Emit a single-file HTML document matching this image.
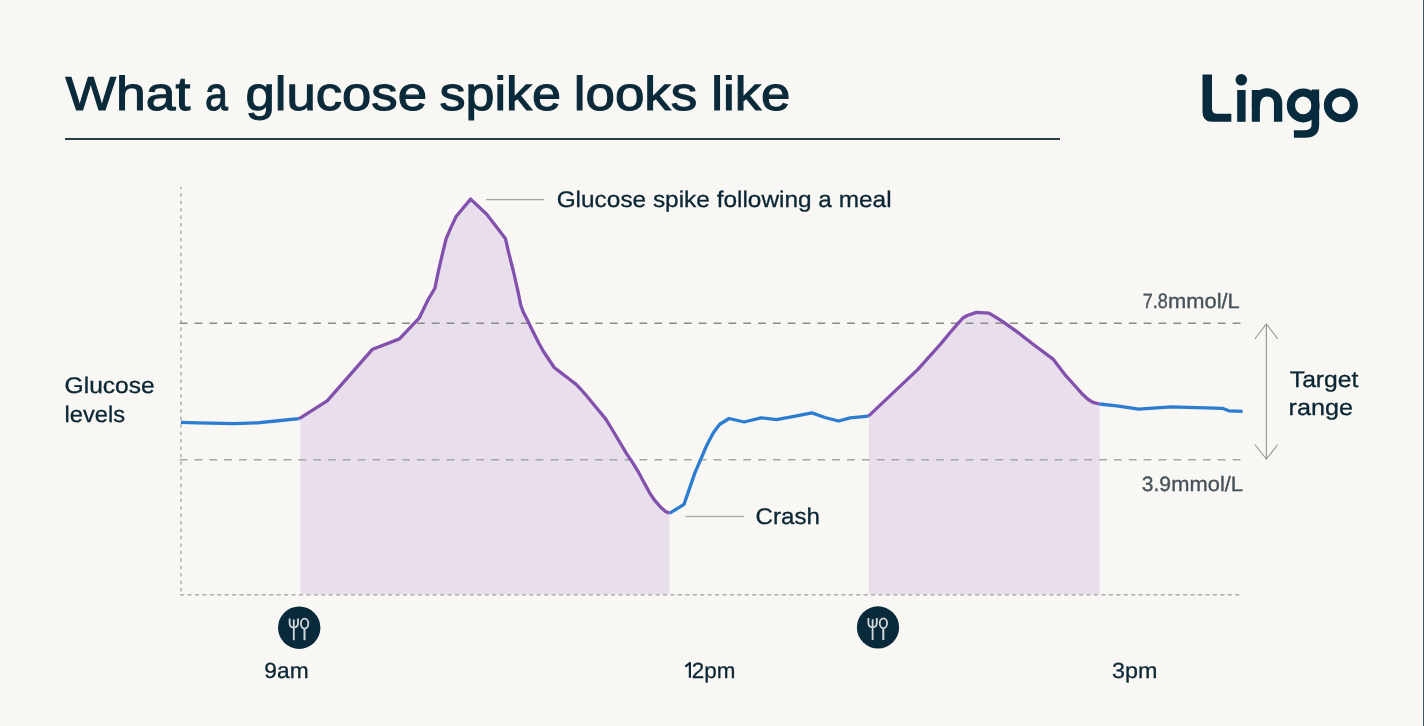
<!DOCTYPE html>
<html>
<head>
<meta charset="utf-8">
<style>
html,body{margin:0;padding:0;}
body{width:1424px;height:726px;background:#F8F7F3;overflow:hidden;position:relative;font-family:"Liberation Sans",sans-serif;}
svg{position:absolute;left:0;top:0;will-change:transform;text-rendering:geometricPrecision;}
.edge{position:absolute;right:0;top:0;width:1px;height:726px;background:#3B5A62;}
</style>
</head>
<body>
<svg width="1424" height="726" viewBox="0 0 1424 726">
  <!-- title -->
  <g font-family="Liberation Sans" font-size="47.5" fill="#0A2A3A" stroke="#0A2A3A" stroke-width="1.1">
    <text x="65.4" y="110.2" textLength="124.86" lengthAdjust="spacingAndGlyphs">What</text>
    <text x="205.03" y="110.2" textLength="22.87" lengthAdjust="spacingAndGlyphs">a</text>
    <text x="245.49" y="110.2" textLength="181.43" lengthAdjust="spacingAndGlyphs">glucose</text>
    <text x="439.6" y="110.2" textLength="121.47" lengthAdjust="spacingAndGlyphs">spike</text>
    <text x="573.66" y="110.2" textLength="123.64" lengthAdjust="spacingAndGlyphs">looks</text>
    <text x="711.27" y="110.2" textLength="79.15" lengthAdjust="spacingAndGlyphs">like</text>
  </g>
  <rect x="65" y="138" width="995" height="2" fill="#283D46"/>

  <!-- Lingo logo -->
  <g fill="#072A3D">
    <path d="M1202.5,74.4 H1212 V108.5 Q1212,113.8 1217,113.8 H1231.3 V121.8 H1212 Q1202.5,121.8 1202.5,112 Z"/>
    <circle cx="1241.3" cy="79.8" r="5.8"/>
    <rect x="1237.2" y="90" width="8.4" height="31.8"/>
    <rect x="1251.8" y="90" width="8.1" height="31.8"/>
  </g>
  <g fill="none" stroke="#072A3D">
    <path d="M1255.9,106 C1255.9,96.5 1261,92.3 1267,92.3 C1273.5,92.3 1278.1,96.5 1278.1,104 V121.8" stroke-width="8.3"/>
    <ellipse cx="1303.2" cy="105.4" rx="12.3" ry="12.9" stroke-width="8.2"/>
    <path d="M1315.35,89.4 V125 Q1315.35,133.95 1305,133.95 H1293.9" stroke-width="7.6"/>
    <ellipse cx="1340.9" cy="105.3" rx="13" ry="12.9" stroke-width="8.1"/>
  </g>

  <!-- fills -->
  <g fill="#E8DEEC">
    <polygon points="300.3,418.1 327.2,400.9 372.6,349.2 399.5,338.9 419.1,318.2 428.2,299.5 434.8,288.5 438.6,270.3 443.2,250.6 446.2,238.5 450.8,227.9 456.1,216.5 470.6,199.1 486.7,214.2 505.4,238.4 508.6,252.3 513.2,270.5 517.7,290.2 520.8,305.3 523,311.4 527.6,320.5 532.2,330 535.5,336.6 539.4,344.3 543.8,352 548.7,359.2 554.2,367.5 561.5,373.1 568.9,378.8 576.4,384.6 581,389.5 586.5,395.7 592.7,403.2 598.9,410.8 605.8,419.1 612.5,430 626.4,453.3 632.6,462.6 637.7,470.8 643.9,482.2 650.1,493.6 654.3,499.8 660.5,507 665.6,511.6 669.5,513.3 669.5,594 300.3,594"/>
    <polygon points="868.8,416 917.9,369.4 941.2,343.4 949.3,333.5 957.4,324.2 962.9,318 967.3,315.5 976.3,312.4 989,313.1 994,316.1 1002,321.1 1016.5,331.4 1033.1,344.2 1053.4,359.4 1059.3,367.2 1066,375.9 1073.8,384.5 1081.5,393.2 1088.2,399.5 1093,402.4 1099.4,404 1099.7,404 1099.7,594 868.8,594"/>
  </g>

  <!-- axes -->
  <line x1="181" y1="187" x2="181" y2="594" stroke="#A0A0A0" stroke-width="1.25" stroke-dasharray="3.4 4.05" stroke-dashoffset="1.2"/>
  <line x1="180" y1="594.8" x2="1241" y2="594.8" stroke="#A0A0A0" stroke-width="1.35" stroke-dasharray="4.2 3.23"/>
  <!-- target range dashed lines -->
  <line x1="179.7" y1="323.3" x2="1241" y2="323.3" stroke="#8A8A8A" stroke-width="1.45" stroke-dasharray="7.8 7.03"/>
  <line x1="179.7" y1="459.8" x2="1241" y2="459.8" stroke="#A6A6A6" stroke-width="1.45" stroke-dasharray="7.8 7.03"/>

  <!-- curve -->
  <g fill="none" stroke-width="3.3" stroke-linejoin="round">
    <polyline stroke="#2C7CD2" points="180.9,422.4 197.8,422.8 234.4,423.7 257.2,422.8 275.5,421 299.2,418.7"/>
    <polyline stroke="#2C7CD2" points="669.5,513.3 684,504.4 695,472.6 706.9,445 713.2,432.9 719.5,424.5 729,418.5 744.1,422 760.9,417.8 776.4,419.6 794,416.4 812,412.9 824.9,417.5 838.6,421 850.2,417.8 868.5,416.1"/>
    <polyline stroke="#2C7CD2" points="1099.4,404 1116.8,405.9 1138.5,409.1 1171.2,406.8 1222.3,408.3 1228.8,410.8 1242.6,411.3"/>
    <polyline stroke="#8250AD" points="299.2,418.7 327.2,400.9 372.6,349.2 399.5,338.9 419.1,318.2 428.2,299.5 434.8,288.5 438.6,270.3 443.2,250.6 446.2,238.5 450.8,227.9 456.1,216.5 470.6,199.1 486.7,214.2 505.4,238.4 508.6,252.3 513.2,270.5 517.7,290.2 520.8,305.3 523,311.4 527.6,320.5 532.2,330 535.5,336.6 539.4,344.3 543.8,352 548.7,359.2 554.2,367.5 561.5,373.1 568.9,378.8 576.4,384.6 581,389.5 586.5,395.7 592.7,403.2 598.9,410.8 605.8,419.1 612.5,430 626.4,453.3 632.6,462.6 637.7,470.8 643.9,482.2 650.1,493.6 654.3,499.8 660.5,507 665.6,511.6 669.5,513.3"/>
    <polyline stroke="#8250AD" points="868.5,416.1 917.9,369.4 941.2,343.4 949.3,333.5 957.4,324.2 962.9,318 967.3,315.5 976.3,312.4 989,313.1 994,316.1 1002,321.1 1016.5,331.4 1033.1,344.2 1053.4,359.4 1059.3,367.2 1066,375.9 1073.8,384.5 1081.5,393.2 1088.2,399.5 1093,402.4 1099.4,404"/>
  </g>

  <!-- annotation lines -->
  <line x1="486.2" y1="199.6" x2="544.3" y2="199.6" stroke="#A2A2A2" stroke-width="1.4"/>
  <line x1="685.4" y1="516.5" x2="743.8" y2="516.5" stroke="#AEAEAE" stroke-width="1.6"/>

  <!-- arrow -->
  <g stroke="#9A9A9A" stroke-width="1.2" fill="none">
    <line x1="1266.4" y1="324" x2="1266.4" y2="459"/>
    <polyline points="1254.8,339 1266.4,324 1277.8,339"/>
    <polyline points="1254.8,444.5 1266.4,459 1277.8,444.5"/>
  </g>

  <!-- labels -->
  <g font-family="Liberation Sans" fill="#0B2634" stroke="#0B2634" stroke-width="0.3">
    <text x="556.65" y="207" font-size="22.7" textLength="334.97" lengthAdjust="spacingAndGlyphs">Glucose spike following a meal</text>
    <text x="64.64" y="392.8" font-size="22.7" textLength="89.98" lengthAdjust="spacingAndGlyphs">Glucose</text>
    <text x="64.56" y="421.8" font-size="22.7" textLength="60.55" lengthAdjust="spacingAndGlyphs">levels</text>
    <text x="1289.8" y="387.1" font-size="22.7" textLength="68.58" lengthAdjust="spacingAndGlyphs">Target</text>
    <text x="1288.53" y="415.4" font-size="22.7" textLength="64.5" lengthAdjust="spacingAndGlyphs">range</text>
    <text x="755.56" y="524" font-size="22.7" textLength="64.33" lengthAdjust="spacingAndGlyphs">Crash</text>
    <text x="264.37" y="677.8" font-size="22" textLength="44.19" lengthAdjust="spacingAndGlyphs">9am</text>
    <text x="691.88" y="677.8" font-size="22" textLength="43.53" lengthAdjust="spacingAndGlyphs">2pm</text>
    <text x="1112.14" y="677.8" font-size="22" textLength="45.36" lengthAdjust="spacingAndGlyphs">3pm</text>
  </g>
  <path d="M685.3,666.6 L689.9,663 V677.7" fill="none" stroke="#0B2634" stroke-width="2.2" stroke-linejoin="round"/>
  <g font-family="Liberation Sans" fill="#46525A" stroke="#46525A" stroke-width="0.35">
    <text x="1142.73" y="308" font-size="20.8" textLength="25.07" lengthAdjust="spacingAndGlyphs">7.8</text>
    <text x="1168.05" y="308" font-size="20.8" textLength="71.75" lengthAdjust="spacingAndGlyphs">mmol/L</text>
    <text x="1141.69" y="491" font-size="20.8" textLength="29.35" lengthAdjust="spacingAndGlyphs">3.9</text>
    <text x="1171.35" y="491" font-size="20.8" textLength="71.65" lengthAdjust="spacingAndGlyphs">mmol/L</text>
  </g>

  <!-- meal icons -->
  <g transform="translate(299.2,627.7)">
    <circle r="21.2" fill="#082A3B"/>
    <g fill="none" stroke="#D3D8DB" stroke-width="1.8">
      <path d="M-9.6,-9.3 V-5 C-9.6,-1.8 -7.8,-0.2 -5.4,-0.2 C-3,-0.2 -1.2,-1.8 -1.2,-5 V-9.3 M-5.4,-8.2 V12.5"/>
      <ellipse cx="5.4" cy="-4.1" rx="3.7" ry="5"/>
      <path d="M5.3,0.9 V12.5" stroke-width="2"/>
    </g>
  </g>
  <g transform="translate(878,627.4)">
    <circle r="21.1" fill="#082A3B"/>
    <g fill="none" stroke="#D3D8DB" stroke-width="1.8">
      <path d="M-9.6,-9.3 V-5 C-9.6,-1.8 -7.8,-0.2 -5.4,-0.2 C-3,-0.2 -1.2,-1.8 -1.2,-5 V-9.3 M-5.4,-8.2 V12.5"/>
      <ellipse cx="5.4" cy="-4.1" rx="3.7" ry="5"/>
      <path d="M5.3,0.9 V12.5" stroke-width="2"/>
    </g>
  </g>
</svg>
<div class="edge"></div>
</body>
</html>
